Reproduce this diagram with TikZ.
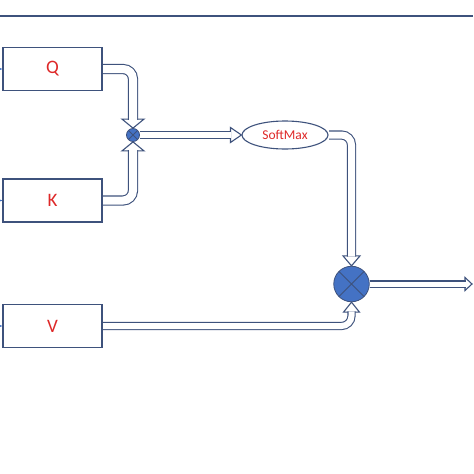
\documentclass[tikz,border=0pt]{standalone}
\usepackage{fontspec}
\setmainfont{Carlito}
\usetikzlibrary{shapes.geometric,arrows.meta}

\definecolor{edgeblue}{RGB}{62,82,124}
\definecolor{fillblue}{RGB}{68,114,196}
\definecolor{labelred}{RGB}{222,40,40}

\tikzset{
  box/.style={draw=edgeblue, line width=1.1pt, fill=white, minimum width=99pt, minimum height=43pt, inner sep=0pt, text=labelred, font=\fontsize{19}{19}\selectfont},
  mulnode/.style={circle, draw=edgeblue, fill=fillblue, line width=0.8pt, inner sep=0pt, minimum size=#1,
    path picture={\draw[edgeblue, line width=0.8pt] (path picture bounding box.north west) -- (path picture bounding box.south east) (path picture bounding box.north east) -- (path picture bounding box.south west);}},
  pipe/.style={draw=edgeblue, line width=1.1pt, double=white, double distance=#1, rounded corners=10pt, shorten <=0.55pt, shorten >=-0.7pt},
  head/.style 2 args={isosceles triangle, isosceles triangle stretches=true, draw=edgeblue, fill=white, line width=1.1pt, inner sep=0pt, outer sep=0pt, minimum height=#1, minimum width=#2},
  feed/.style={draw=fillblue, line width=1.6pt}
}

\begin{document}
\begin{tikzpicture}[x=1pt, y=-1pt]
        \useasboundingbox (0,0) rectangle (474,474);
        \draw[edgeblue, line width=1.2pt] (0,16) -- (473,16);

        \node[box] (Q) at (52.5,69) {Q};
        \node[box] (K) at (52.5,200.5) {K};
        \node[box] (V) at (52.5,326) {V};
        \node[ellipse, draw=edgeblue, line width=1.1pt, minimum width=86pt, minimum height=28pt, inner sep=0pt, text=labelred, font=\fontsize{13.5}{13.5}\selectfont] (soft) at (285,135) {SoftMax};
        \node[mulnode=13pt] (mul1) at (133,135) {};
        \node[mulnode=35.5pt] (mul2) at (351.5,284) {};
        \coordinate (out) at (472,284);
        \coordinate (qin) at (-20,69);
        \coordinate (kin) at (-20,200.5);
        \coordinate (vin) at (-20,326);

        \node[head={9pt}{22pt}, rotate=-90, anchor=apex] (hq) at (mul1.north) {};
        \node[head={9pt}{22pt}, rotate=90, anchor=apex] (hk) at (mul1.south) {};
        \node[head={11pt}{15pt}, anchor=apex] (hs) at (soft.west) {};
        \node[head={10pt}{17pt}, rotate=-90, anchor=apex] (hm) at (mul2.north) {};
        \node[head={10pt}{16pt}, rotate=90, anchor=apex] (hv) at (mul2.south) {};
        \node[head={7pt}{13pt}, anchor=apex] (ho) at (out) {};

        \draw[pipe=8pt] (Q.east) -| (hq.lower side);
        \draw[pipe=8pt] (K.east) -| (hk.lower side);
        \draw[pipe=6pt] (mul1.east) -- (hs.lower side);
        \draw[pipe=7pt] (soft.east) -| (hm.lower side);
        \draw[pipe=6pt] (V.east) -| (hv.lower side);
        \draw[pipe=5pt] (mul2.east) -- (ho.lower side);

        \draw[feed, -{Stealth[length=4pt]}] (qin) -- (Q.west);
        \draw[feed, -{Stealth[length=4pt]}] (kin) -- (K.west);
        \draw[feed, -{Stealth[length=4pt]}] (vin) -- (V.west);
    \end{tikzpicture}
\end{document}
